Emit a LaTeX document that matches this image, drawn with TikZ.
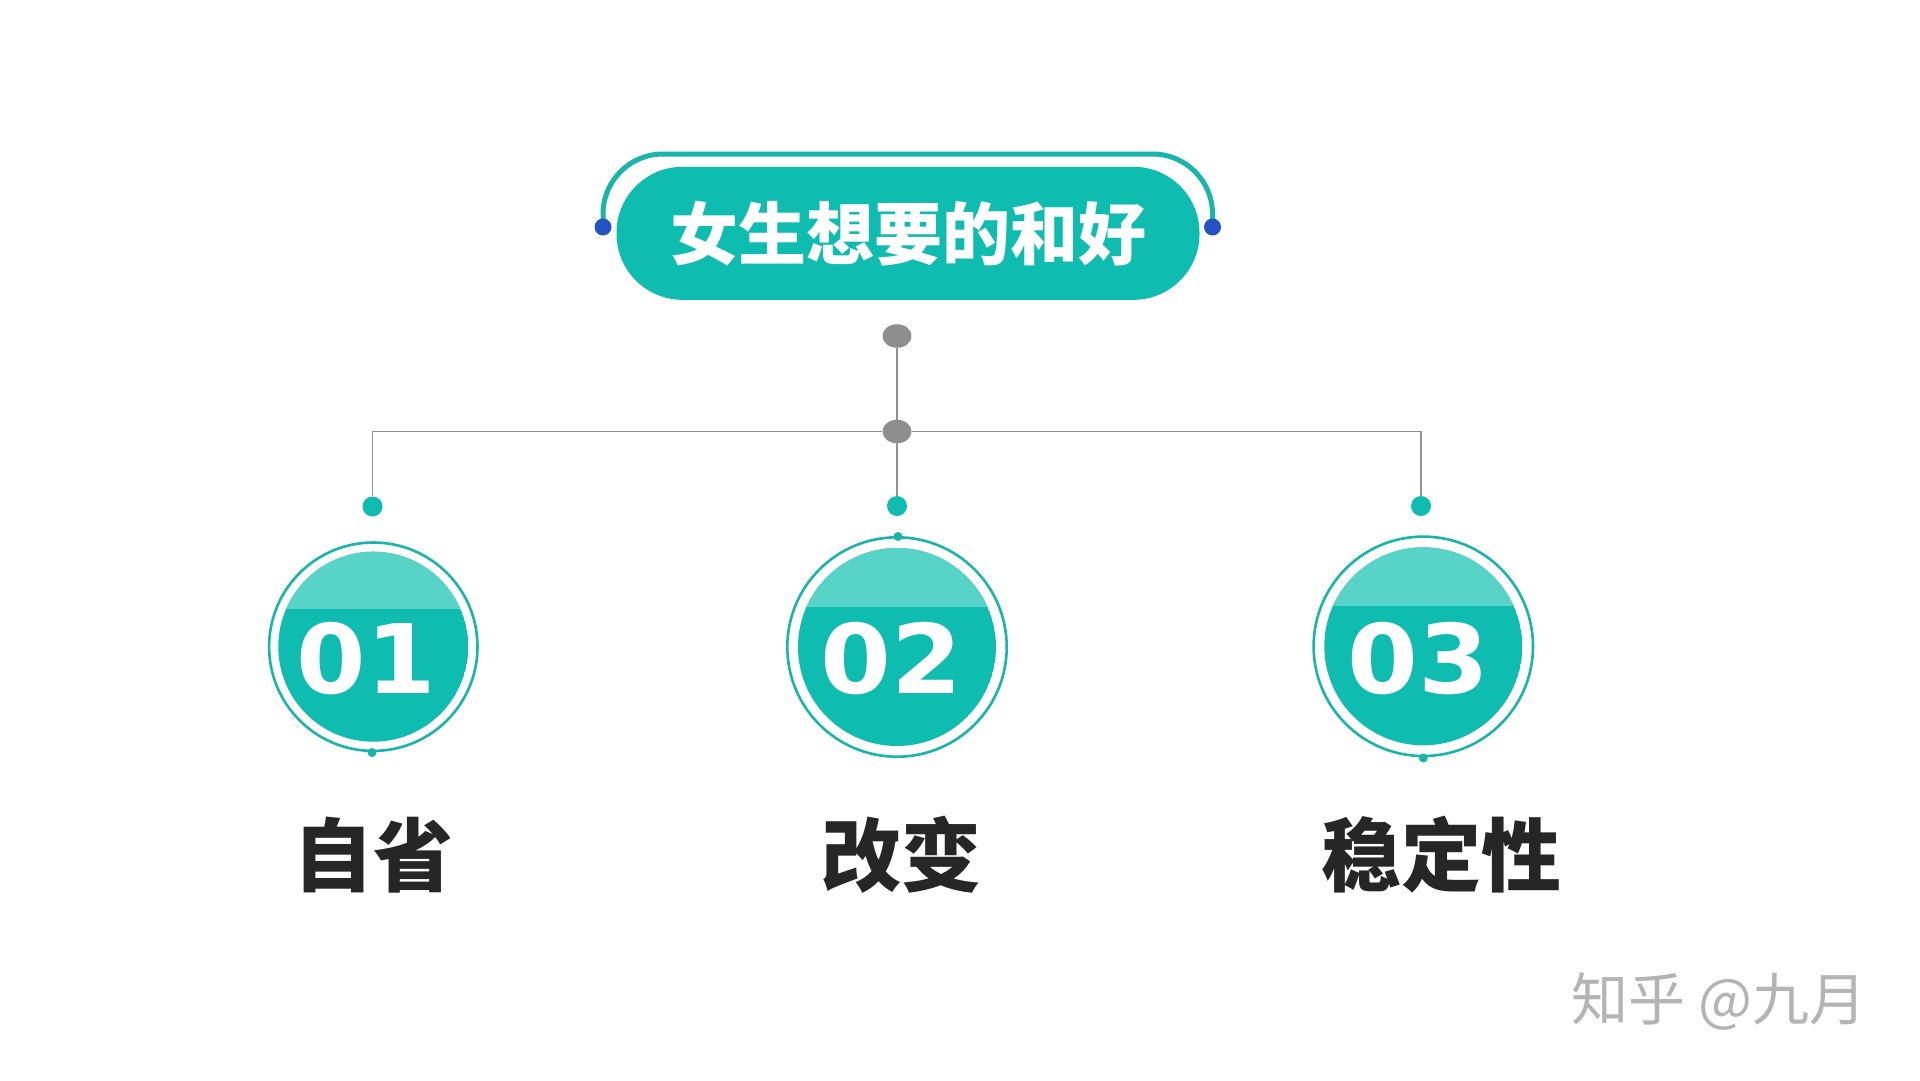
\documentclass[tikz,border=0pt]{standalone}
\usepackage{fontspec}
\usetikzlibrary{shapes.geometric}
\newfontfamily\cjk{Noto Sans CJK SC}
\newfontfamily\digitfont{DejaVu Sans}
\definecolor{tealmain}{HTML}{0FBDB0}
\definecolor{teallight}{HTML}{58D3C8}
\definecolor{tealline}{HTML}{17B6A9}
\definecolor{bluedot}{HTML}{2352C2}
\definecolor{graydot}{HTML}{8E8E8E}
\definecolor{grayline}{HTML}{939393}
\definecolor{labelgray}{HTML}{262626}
\definecolor{markgray}{HTML}{B4B4B4}
\tikzset{
  pill/.style={fill=tealmain, rounded corners=66pt, minimum width=583pt, minimum height=133pt, inner sep=0pt, text=white, font=\cjk\bfseries\fontsize{68}{68}\selectfont},
  arcline/.style={draw=tealline, line width=5pt},
  bdot/.style={circle, fill=bluedot, minimum size=17pt, inner sep=0pt},
  gdot/.style={ellipse, fill=graydot, minimum width=29pt, minimum height=23.5pt, inner sep=0pt},
  gline/.style={draw=grayline, line width=1.8pt},
  tdot/.style={circle, fill=tealmain, minimum size=20pt, inner sep=0pt},
  ringdot/.style={circle, fill=tealline, minimum size=9pt, inner sep=0pt},
  ringline/.style={draw=tealline, line width=2.6pt},
  numtext/.style={text=white, font=\digitfont\bfseries\fontsize{96}{96}\selectfont, inner sep=0pt},
  labeltext/.style={text=labelgray, font=\cjk\bfseries\fontsize{80}{80}\selectfont, inner sep=0pt},
  marktext/.style={text=markgray, font=\cjk\fontsize{57}{57}\selectfont, inner sep=0pt}
}
\begin{document}
\begin{tikzpicture}[x=1pt,y=-1pt]
\useasboundingbox (0,0) rectangle (1920,1080);
\fill[white] (0,0) rectangle (1920,1080);

% title
\coordinate (bl) at (603,227);
\coordinate (br) at (1212.5,227);
\draw[arcline, rounded corners=60pt] (bl) -- (603,154) -- (1212.5,154) -- (br);
\node[bdot] (bdl) at (bl) {};
\node[bdot] (bdr) at (br) {};
\node[pill] (title) at (908,233.3) {女生想要的和好};

% connectors
\node[gdot] (g1) at (897,336) {};
\node[gdot] (g2) at (897,431.5) {};
\coordinate (h1) at (372.5,431.5);
\coordinate (h3) at (1421,431.5);
\node[tdot] (t1) at (372.5,506.5) {};
\node[tdot] (t2) at (897,506) {};
\node[tdot] (t3) at (1421,506) {};
\draw[gline] (g1) -- (g2);
\draw[gline] (g2) -- (h1) -- (t1);
\draw[gline] (g2) -- (h3) -- (t3);
\draw[gline] (g2) -- (t2);

% badges
\foreach \cx/\cy/\ro/\ri/\cp in {373.3/646.7/105.5/95/38, 897/647/111/99/40, 1423.3/646.3/111/99/40} {
  \draw[ringline] (\cx,\cy) circle[radius=\ro-1.3];
  \begin{scope}
    \clip (\cx,\cy) circle[radius=\ri];
    \fill[tealmain] (\cx,\cy) circle[radius=\ri];
    \fill[teallight] (\cx-\ri-2,\cy-\ri-2) rectangle (\cx+\ri+2,\cy-\cp);
  \end{scope}
}
\node[ringdot] (r1) at (372,752.5) {};
\node[ringdot] (r2) at (898,536.5) {};
\node[ringdot] (r3) at (1423.3,758) {};

\node[numtext] (n1) at (366,658.5) {\scalebox{1.04}[1]{01}};
\node[numtext] (n2) at (891.7,658.5) {\scalebox{1.06}[1]{02}};
\node[numtext] (n3) at (1418.3,658.3) {\scalebox{1.06}[1]{03}};

% labels
\node[labeltext] (l1) at (373,855) {自省};
\node[labeltext] (l2) at (901,855) {改变};
\node[labeltext] (l3) at (1441,855) {稳定性};

% watermark
\node[marktext] (wm) at (1719,1001) {知乎 @九月};
\end{tikzpicture}
\end{document}
